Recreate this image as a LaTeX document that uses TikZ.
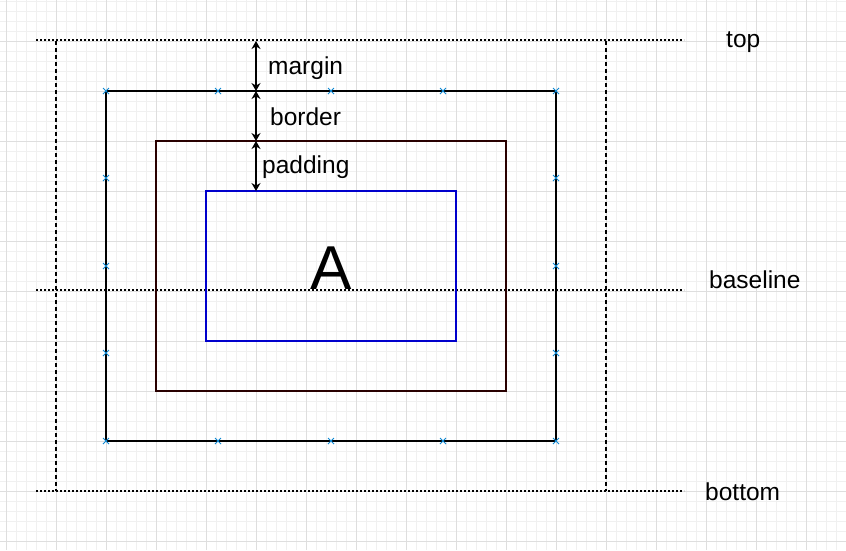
\documentclass[tikz,border=0pt]{standalone}
\usepackage{fontspec}
\setmainfont{Liberation Sans}
\usetikzlibrary{arrows.meta}
\begin{document}
\begin{tikzpicture}[x=1pt,y=-1pt,
  dotline/.style={line width=2pt,dash pattern=on 2pt off 2pt},
  arr/.style={{Stealth[length=8pt,width=9pt]}-{Stealth[length=8pt,width=9pt]},line width=1.3pt},
  lbl/.style={font=\fontsize{24.5}{28}\selectfont,anchor=west,inner sep=0pt},
  mk/.style={draw=cyan!70!blue,line width=1pt}]
\useasboundingbox (0,0) rectangle (846,550);
\fill[white] (0,0) rectangle (846,550);
\foreach \i in {0,...,84} \draw[black!6,line width=0.8pt] (6+10*\i,0) -- (6+10*\i,550);
\foreach \i in {0,...,54} \draw[black!6,line width=0.8pt] (0,1+10*\i) -- (846,1+10*\i);
\foreach \i in {0,...,16} \draw[black!13,line width=0.9pt] (6+50*\i,0) -- (6+50*\i,550);
\foreach \i in {0,...,10} \draw[black!13,line width=0.9pt] (0,41+50*\i) -- (846,41+50*\i);
% dashed margin box
\draw[line width=1.3pt,dash pattern=on 4pt off 3pt] (56,41) -- (56,491) (606,41) -- (606,491);
% dotted lines
\draw[dotline] (36,40) -- (684,40);
\draw[dotline] (36,290) -- (684,290);
\draw[dotline] (36,491) -- (684,491);
\node[lbl] (top) at (726,42) {top};
\node[lbl] (base) at (709,280) {baseline};
\node[lbl] (bot) at (705,492) {bottom};
% boxes
\draw[black,line width=1.1pt] (106,91) rectangle (556,441);
\draw[black!60!red!40!black,line width=1.1pt] (156,141) rectangle (506,391);
\draw[blue!80!black,line width=1.1pt] (206,191) rectangle (456,341);
\node[font=\fontsize{62}{70}\selectfont,inner sep=0pt] (A) at (331,268) {A};
% markers
\foreach \x in {106,218,331,443,556} {
  \foreach \y in {91,441} \draw[mk] (\x-3,\y-3) -- (\x+3,\y+3) (\x-3,\y+3) -- (\x+3,\y-3);}
\foreach \y in {178,266,353} {
  \foreach \x in {106,556} \draw[mk] (\x-3,\y-3) -- (\x+3,\y+3) (\x-3,\y+3) -- (\x+3,\y-3);}
% arrows
\coordinate (m1) at (256,41); \coordinate (m2) at (256,91);
\coordinate (b2) at (256,141); \coordinate (p2) at (256,191);
\draw[arr] (m1) -- (m2);
\draw[arr] (m2) -- (b2);
\draw[arr] (b2) -- (p2);
\node[lbl] (margin) at (268,68) {margin};
\node[lbl] (border) at (270,117) {border};
\node[lbl] (padding) at (262,167) {padding};
\end{tikzpicture}
\end{document}
